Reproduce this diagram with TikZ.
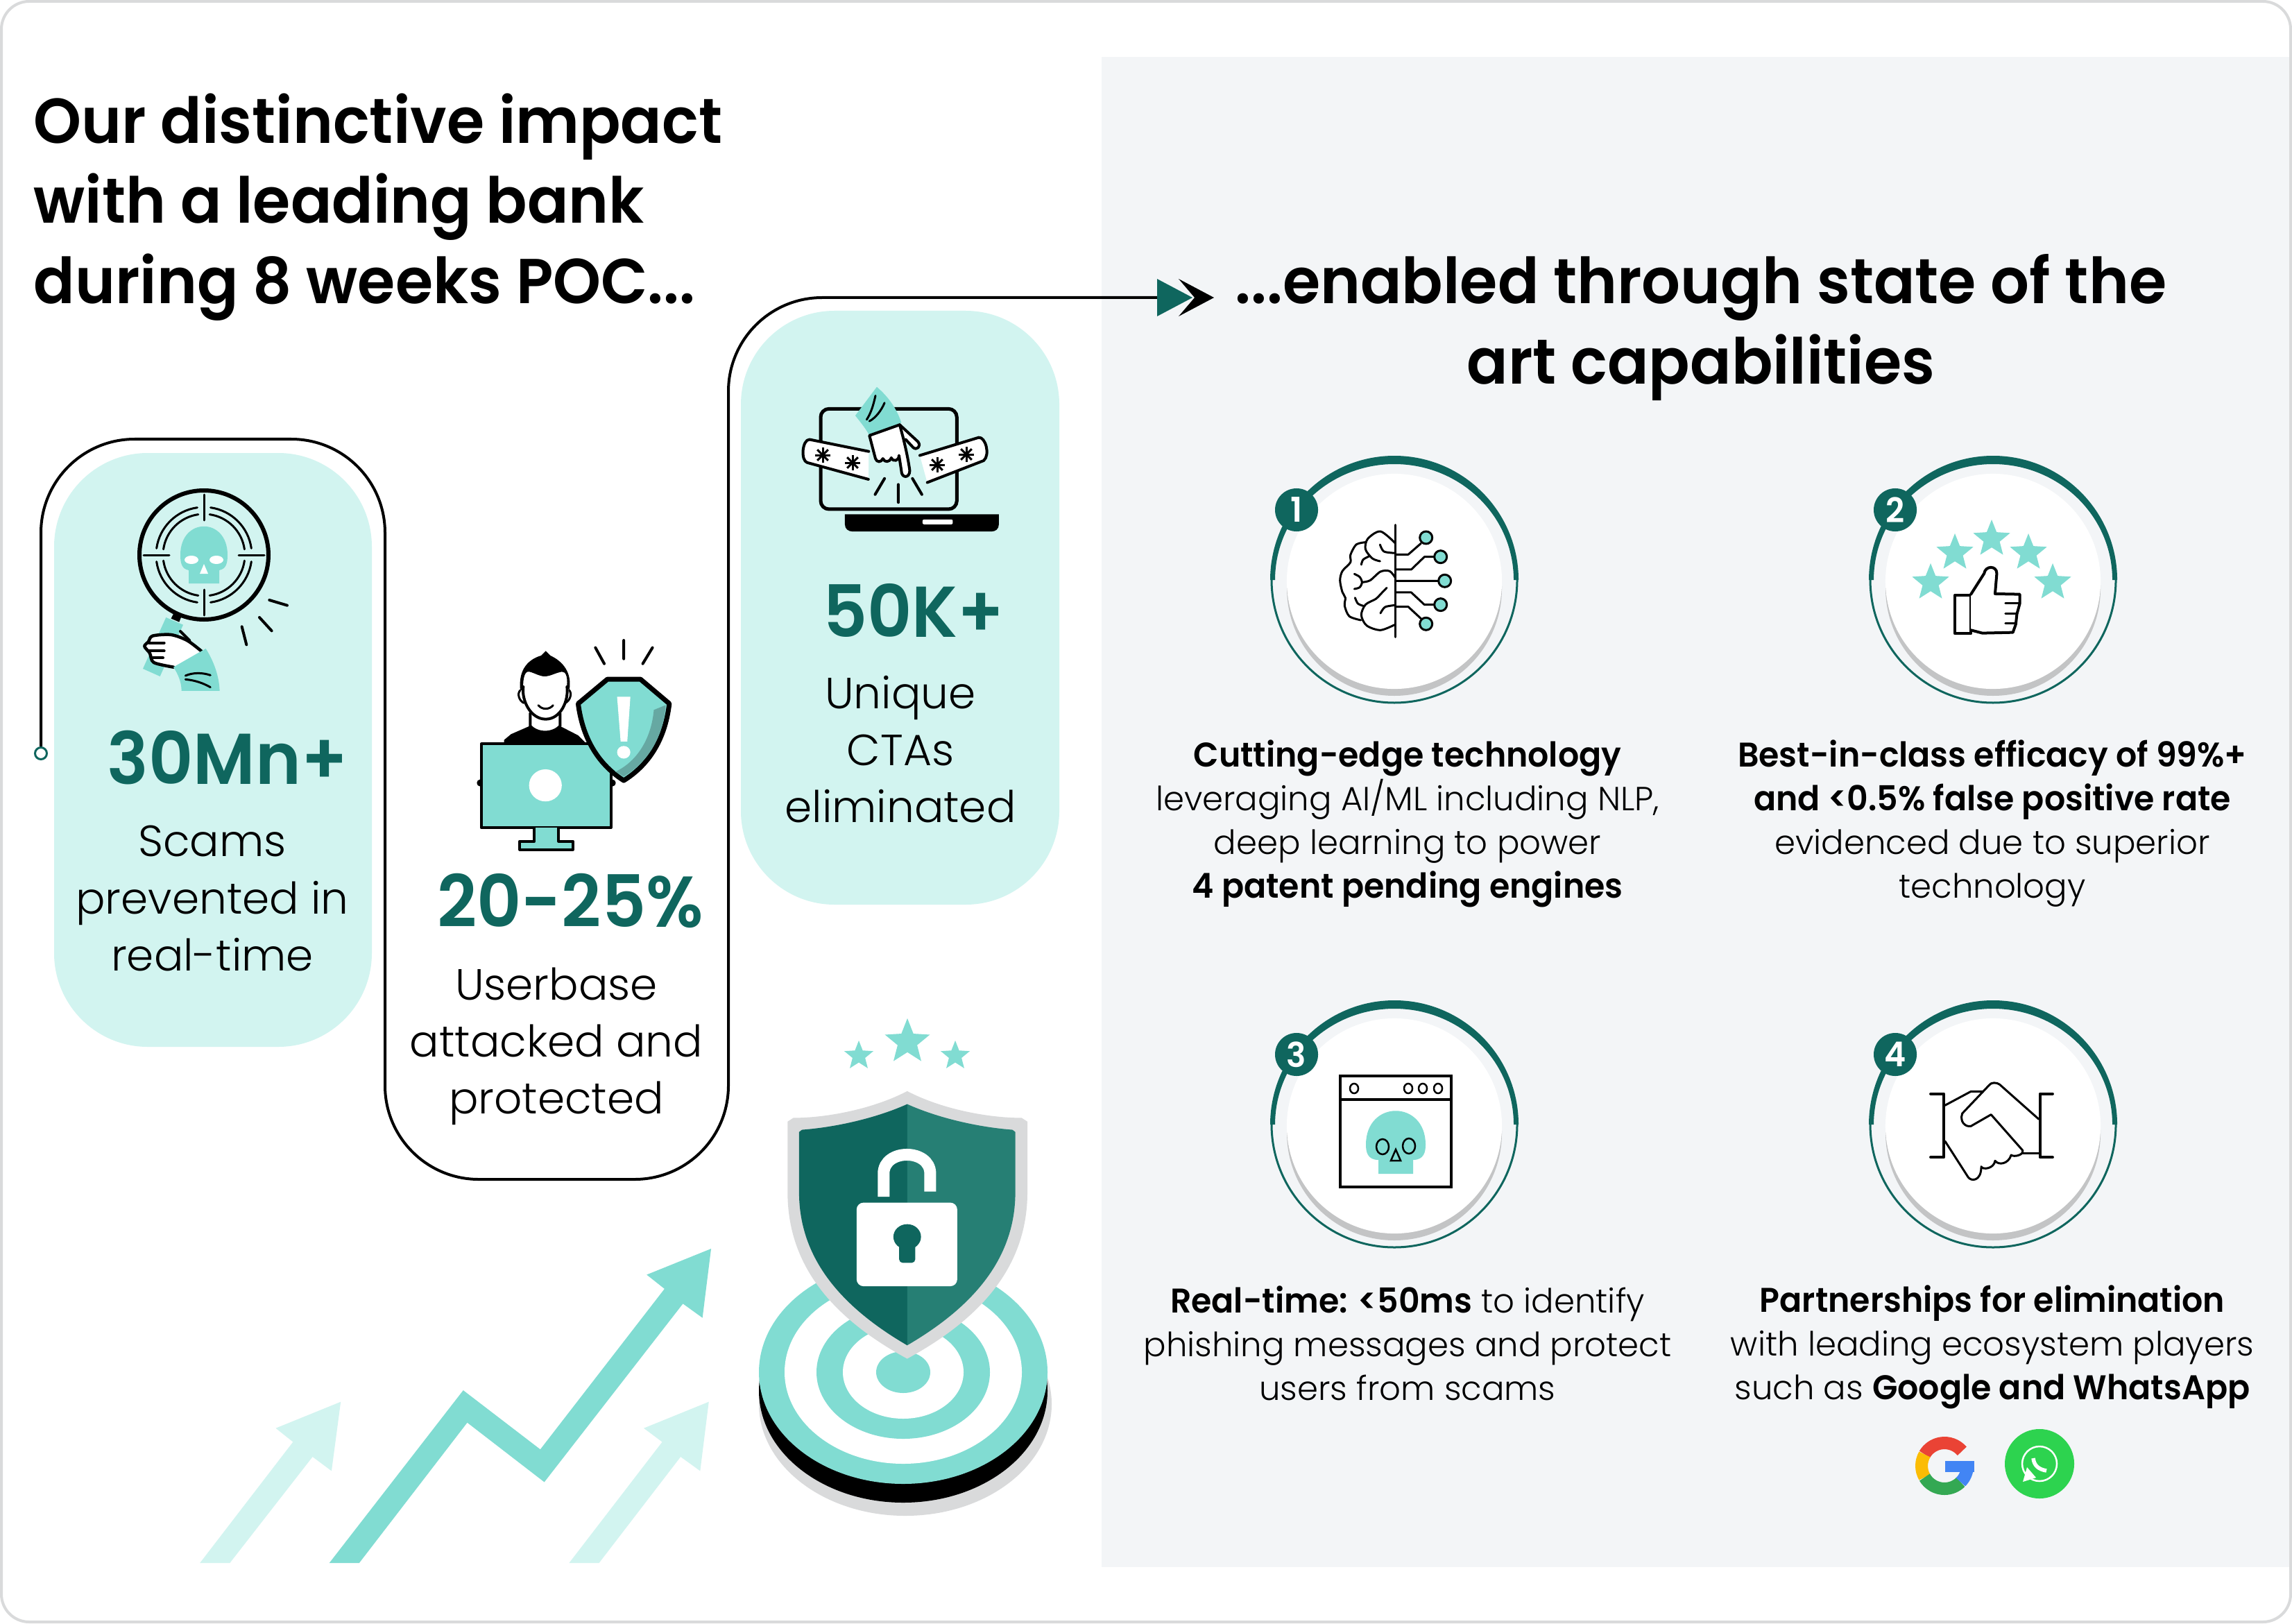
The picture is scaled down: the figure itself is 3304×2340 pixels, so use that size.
\documentclass[tikz,border=0pt]{standalone}
\usepackage{fontspec}
\usetikzlibrary{shapes.geometric}
\setmainfont{Poppins}[UprightFont=*-Light,BoldFont=*-SemiBold,BoldFeatures={FakeStretch=.96}]
\definecolor{deepteal}{HTML}{0F665E}
\definecolor{midteal}{HTML}{267F74}
\definecolor{softteal}{HTML}{81DCD2}
\definecolor{paleteal}{HTML}{D2F4F0}
\definecolor{panelgrey}{HTML}{F3F5F7}
\definecolor{edgegrey}{HTML}{D9DADB}
\definecolor{shieldshade}{HTML}{66A8A2}
\definecolor{googlered}{HTML}{EA4335}
\definecolor{googleyellow}{HTML}{FBBC05}
\definecolor{googlegreen}{HTML}{34A853}
\definecolor{googleblue}{HTML}{4285F4}
\definecolor{whatsgreen}{HTML}{2DD34F}
\tikzset{
  heading/.style={font=\fontsize{26}{32.86}\selectfont\bfseries,align=left,text=black,inner sep=0pt},
  headingc/.style={heading,align=center},
  statnum/.style={font=\fontsize{29.5}{36}\selectfont\bfseries,text=deepteal,inner sep=0pt},
  statline/.style={font=\fontsize{17.9}{23.33}\selectfont,align=center,inner sep=0pt},
  itemtext/.style={font=\fontsize{13.7}{17.92}\selectfont,align=center,inner sep=0pt},
  card/.style={fill=paleteal,rounded corners=1.35cm},
  outline/.style={line width=.04cm,rounded corners=1.35cm},
  ink/.style={line width=.04cm,line join=round,line cap=round},
  thinink/.style={line width=.03cm,line join=round,line cap=round},
  tealstar/.style={star,star points=5,star point ratio=2.3,fill=softteal,inner sep=0pt},
  badge/.style={circle,fill=deepteal,text=white,minimum size=.62cm,inner sep=0pt,font=\fontsize{14}{14}\selectfont\bfseries},
}
\newcommand\boldrun[1]{{\fontsize{14.05}{17.92}\selectfont\bfseries #1}}
\begin{document}
\begin{tikzpicture}[x=.01cm,y=-.01cm]
\useasboundingbox(0,0)rectangle(3304,2340);
\fill[white,rounded corners=.4cm](2,2)rectangle(3302,2338);
\fill[panelgrey](1588,82)rectangle(3301,2259);
\draw[edgegrey,line width=.04cm,rounded corners=.4cm](2,2)rectangle(3302,2338);
\fill[card](78,653)rectangle(536,1509);
\fill[card](1068,448)rectangle(1527,1304);
\node[heading,anchor=north west](lefthead)at(48,134){Our distinctive impact\\with a leading bank\\during 8 weeks POC...};
\node[headingc](righthead)at(2452,472){...enabled through state of the\\art capabilities};
\node[draw=deepteal,fill=white,circle,line width=.03cm,minimum size=.17cm,inner sep=0pt](startdot)at(59,1086){};
\coordinate(tip)at(1672,429);
\draw[outline](startdot.north)--(59,633)--(555,633)--(555,1700)--(1050,1700)--(1050,429)--(tip);
\fill(1699,402)--(1750,429)--(1699,456)--(1722,429)--cycle;
\fill[deepteal](1668,402)--(1719,429)--(1668,456)--cycle;
\node[statnum](scamsnum)at(328,1092){30Mn+};
\node[statline](scamstext)at(306,1295){Scams\\prevented in\\real-time};
\node[statnum](usersnum)at(822,1298){20-25\%};
\node[statline](userstext)at(802,1508){Userbase\\attacked and\\protected};
\node[statnum](ctasnum)at(1317,880){50K+};
\node[statline](ctastext)at(1298,1080){Unique\\CTAs\\eliminated};
\foreach \cx/\cy/\n in {2010/836/1,2873/836/2,2010/1621/3,2873/1621/4}{
  \fill[deepteal]({\cx-179},\cy)arc[start angle=180,end angle=360,radius=179]--({\cx+172},\cy)arc[start angle=360,end angle=180,x radius=172,y radius=167]--cycle;
  \draw[deepteal,line width=.03cm]({\cx+177},\cy)arc[start angle=0,end angle=180,radius=177];
  \fill[edgegrey!90!black]({\cx},{\cy+12})circle[radius=155];
  \node[circle,fill=white,minimum size=3.1cm,inner sep=0pt](disc\n)at(\cx,{\cy+2}){};
  \node[badge](badge\n)at({\cx-141},{\cy-101}){\n};
}
\node[itemtext](item1)at(2029,1187){\boldrun{Cutting-edge technology}\\leveraging AI/ML including NLP,\\deep learning to power\\\boldrun{4 patent pending engines}};
\node[itemtext](item2)at(2872,1187){\boldrun{Best-in-class efficacy of 99\%+}\\\boldrun{and <0.5\% false positive rate}\\evidenced due to superior\\technology};
\node[itemtext](item3)at(2029,1936){\boldrun{Real-time: <50ms} to identify\\phishing messages and protect\\users from scams};
\node[itemtext](item4)at(2872,1942){\boldrun{Partnerships for elimination}\\with leading ecosystem players\\such as \boldrun{Google and WhatsApp}};
\begin{scope}[shift={(190,860)},scale=.3333]
\fill[softteal](148,90)--(222,122)--(122,345)--(48,312)--cycle;
\fill(180,75)--(215,85)--(205,110)--(170,95)--cycle;
\draw[ink](210,150)--(250,190);
\fill[white](300,235)--(210,172)--(90,170)--(55,215)--(95,290)--(180,305)--cycle;
\draw[ink,line width=.045cm]plot[smooth]coordinates{(300,235)(240,190)(170,165)(90,170)(72,195)(55,215)(78,245)(95,285)(180,305)};
\draw[ink](75,200)--(140,200)(70,235)--(140,235)(90,265)--(135,265);
\fill[softteal](180,305)--(320,225)..controls(355,280)and(378,345)..(380,408)--(215,408)..controls(215,370)and(200,335)..(180,305)--cycle;
\draw[thinink](232,342)..controls(265,328)and(305,328)..(340,340)(232,358)..controls(275,362)and(310,375)..(340,392);
\draw[ink](595,15)--(672,38)(552,90)--(605,148)(476,130)--(496,208);
\end{scope}
\draw[line width=.06cm,fill=paleteal](294,800)circle[radius=93];
\foreach \a in {0,90,180,270}{
  \draw[thinink]({294+69*cos(\a+8)},{800+69*sin(\a+8)})arc[start angle=\a+8,end angle=\a+82,radius=69];
  \draw[thinink]({294+59*cos(\a+8)},{800+59*sin(\a+8)})arc[start angle=\a+8,end angle=\a+82,radius=59];
  \draw[thinink]({294+87*cos(\a)},{800+87*sin(\a)})--({294+50*cos(\a)},{800+50*sin(\a)});
}
\fill[softteal](260,800)..controls(260,745)and(328,745)..(328,800)..controls(328,812)and(326,820)..(316,822)--(316,841)--(272,841)--(272,822)..controls(262,820)and(260,812)..(260,800)--cycle;
\fill[white](276,807)ellipse[x radius=10,y radius=6](312,807)ellipse[x radius=10,y radius=6];
\fill[white](294,813)--(288,827)--(300,827)--cycle;
\begin{scope}[shift={(700,920)},scale=.3333]
\fill(80,450)--(80,440)--(110,415)--(190,380)--(322,380)--(400,420)--(430,450)--cycle;
\draw[ink,fill=white](193,325)--(193,380)..controls(225,415)and(290,415)..(322,380)--(322,325);
\draw[ink,fill=white](163,210)..controls(155,270)and(195,350)..(260,350)..controls(325,350)and(360,270)..(352,210);
\fill(150,225)..controls(140,130)and(190,90)..(240,75)--(260,55)--(280,75)..controls(335,100)and(375,150)..(362,225)--(352,205)..controls(355,160)and(345,145)..(330,145)..controls(300,150)and(280,165)..(255,165)..controls(235,165)and(210,150)..(190,145)..controls(170,140)and(160,170)..(163,225)--cycle;
\draw[thinink](150,225)..controls(135,240)and(145,270)..(165,280)(362,225)..controls(375,240)and(365,270)..(345,280);
\draw[thinink](228,290)..controls(245,310)and(275,310)..(292,290);
\end{scope}
\begin{scope}[shift={(40,620)},xscale=.6378,yscale=.7015]
\fill(1022,725)circle[radius=7](1322,725)circle[radius=7];
\draw[ink,fill=softteal](1025,645)rectangle(1318,817);
\draw[ink,fill=softteal](1145,817)--(1145,845)--(1112,845)--(1112,862)--(1232,862)--(1232,845)--(1200,845)--(1200,817);
\fill[white](1170,730)ellipse[x radius=37,y radius=33];
\draw[line width=.07cm,line join=round,fill=softteal](1310,512)--(1385,512)--(1450,562)..controls(1440,640)and(1400,690)..(1347,720)..controls(1295,690)and(1255,640)..(1244,562)--cycle;
\fill[shieldshade](1415,575)--(1442,565)..controls(1435,640)and(1395,685)..(1347,712)..controls(1340,708)and(1335,705)..(1328,702)..controls(1380,680)and(1410,630)..(1415,575)--cycle;
\fill[white](1332,548)--(1362,548)--(1355,640)--(1340,640)--cycle;
\fill[white](1347,662)ellipse[x radius=15,y radius=13];
\draw[ink](1283,447)--(1303,480)(1347,432)--(1347,470)(1412,447)--(1390,480);
\end{scope}
\begin{scope}[shift={(1040,420)},xscale=.4847,yscale=.574]
\draw[line width=.05cm,rounded corners=.12cm](295,295)rectangle(700,547);
\fill(367,560)--(825,560)--(825,585)..controls(825,597)and(815,603)..(803,603)--(390,603)..controls(378,603)and(367,597)..(367,585)--cycle;
\fill[white,rounded corners=.02cm](598,573)rectangle(688,585);
\draw[ink,fill=white](438,402)--(262,372)..controls(240,372)and(235,425)..(255,430)--(437,472);
\draw[ink,fill=white](590,412)--(765,367)..controls(785,365)and(800,410)..(780,425)--(612,480);
\fill[softteal](462,240)..controls(490,260)and(520,290)..(535,330)--(440,362)..controls(430,345)and(410,325)..(398,312)--cycle;
\draw[thinink](458,262)..controls(452,285)and(445,305)..(432,322)(485,280)..controls(475,300)and(458,318)..(440,326);
\draw[ink,fill=white](530,335)--(585,378)..controls(595,390)and(580,400)..(570,392)--(548,372);
\draw[ink,fill=white](440,362)--(530,335)..controls(545,380)and(555,420)..(560,450)..controls(560,470)and(535,470)..(535,450)--(528,412)..controls(528,425)and(512,430)..(505,418)..controls(500,430)and(485,430)..(480,420)..controls(475,430)and(462,430)..(458,420)--cycle;
\draw[ink](485,470)--(457,510)(526,485)--(526,530)(568,470)--(596,510);
\end{scope}
\foreach \sx/\sy in {1186/656,1229/667,1351/670,1393/655}{
  \foreach \a in {0,45,90,135}
    \draw[line width=.03cm]({\sx-11*cos(\a)},{\sy-11*sin(\a)})--({\sx+11*cos(\a)},{\sy+11*sin(\a)});
}
\begin{scope}[shift={(1900,740)},scale=.3333]
\draw[thinink](335,50)--(335,535);
\draw[thinink](335,178)--(390,178)--(445,130)(335,243)--(403,243)--(460,188)--(505,188)(335,292)--(520,292)(335,342)--(403,342)--(460,395)--(505,395)(335,404)--(390,404)--(445,455);
\foreach \dx/\dy in {467/105,530/188,548/292,530/395,467/478}
  \draw[thinink,fill=softteal](\dx,\dy)circle[radius=27];
\draw[thinink]plot[smooth]coordinates{(335,130)(270,78)(215,110)(205,155)(235,195)(268,207)};
\draw[thinink]plot[smooth]coordinates{(205,125)(165,135)(140,180)(140,212)(105,250)(95,290)(105,340)(118,365)(115,400)(135,445)(185,462)};
\draw[thinink]plot[smooth]coordinates{(335,480)(270,505)(210,485)(187,440)(205,395)(250,370)(270,350)(297,322)};
\draw[thinink]plot[smooth]coordinates{(160,365)(172,390)(195,400)};
\draw[thinink]plot[smooth]coordinates{(268,135)(285,165)(335,172)};
\draw[thinink]plot[smooth]coordinates{(222,185)(195,200)(187,222)};
\draw[thinink]plot[smooth]coordinates{(157,262)(180,275)(190,298)(180,320)(157,327)};
\draw[thinink]plot[smooth]coordinates{(190,298)(225,290)(270,252)(310,250)(335,280)};
\draw[thinink]plot[smooth]coordinates{(270,432)(290,405)(335,397)};
\end{scope}
\begin{scope}[shift={(1780,640)},xscale=.829,yscale=.3333]
\draw[ink,fill=white](1252,655)rectangle(1280,820);
\draw[ink,fill=white](1280,650)--(1303,560)..controls(1305,525)and(1325,525)..(1325,560)--(1322,648)--(1365,650)--(1365,690)--(1360,735)--(1358,780)--(1353,815)--(1300,818)--(1280,805);
\draw[thinink](1340,690)--(1365,690)(1340,735)--(1360,735)(1340,775)--(1358,775);
\end{scope}
\foreach \sx/\sy/\sn in {2871/777/a,2818/797/b,2924/797/c,2783/840/d,2959/840/e}
  \node[tealstar,minimum size=.56cm](star\sn)at(\sx,\sy){};
\draw[line width=.035cm](1932,1551)rectangle(2092,1711)(1932,1585)--(2092,1585);
\foreach \dx in {1952,2030,2051,2073}
  \draw[line width=.025cm](\dx,1569)ellipse[x radius=6,y radius=7];
\fill[softteal](1969,1650)..controls(1969,1585)and(2055,1585)..(2055,1650)..controls(2055,1660)and(2053,1672)..(2037,1672)--(2037,1692)--(1987,1692)--(1987,1672)..controls(1971,1672)and(1969,1660)..(1969,1650)--cycle;
\draw[line width=.025cm](1993,1653)ellipse[x radius=9,y radius=11](2031,1652)ellipse[x radius=9,y radius=11](2012,1657)--(2005,1673)--(2019,1673)--cycle;
\begin{scope}[shift={(1780,1420)},xscale=.829,yscale=.3333]
\draw[ink](1210,470)--(1233,470)--(1233,745)--(1210,745)(1422,470)--(1400,470)--(1400,745)--(1422,745);
\draw[thinink](1235,520)--(1280,460)--(1300,460);
\draw[thinink,fill=white](1398,580)--(1330,430)..controls(1325,420)and(1315,420)..(1312,432)--(1265,555)..controls(1260,590)and(1270,615)..(1280,610)--(1315,560)--(1370,715)..controls(1372,735)and(1355,745)..(1350,735)..controls(1345,775)and(1328,780)..(1322,760)..controls(1320,795)and(1300,800)..(1298,785)..controls(1298,850)and(1280,850)..(1275,830)--(1235,675);
\draw[thinink](1370,728)--(1398,728);
\end{scope}
\begin{scope}[shift={(240,1440)},xscale=.829,yscale=.5357]
\fill[paleteal](58,1518)--(220,1192)--(190,1155)--(303,1084)--(287,1270)--(254,1232)--(110,1518)--cycle;
\fill[paleteal](700,1518)--(862,1192)--(830,1155)--(943,1084)--(928,1270)--(894,1232)--(752,1518)--cycle;
\fill[softteal](283,1518)--(516,1053)--(650,1212)--(866,780)--(835,742)--(947,672)--(932,858)--(898,820)--(657,1300)--(523,1140)--(335,1518)--cycle;
\end{scope}
\fill[edgegrey](1305,2024)ellipse[x radius=211,y radius=161];
\fill(1302,2005)ellipse[x radius=208,y radius=161];
\fill[softteal](1302,1978)ellipse[x radius=208,y radius=161];
\fill[white](1302,1978)ellipse[x radius=171,y radius=132];
\fill[softteal](1302,1978)ellipse[x radius=125,y radius=96];
\fill[white](1302,1978)ellipse[x radius=87,y radius=67];
\fill[softteal](1302,1978)ellipse[x radius=39,y radius=30];
\begin{scope}[shift={(240,1440)},xscale=.829,yscale=.5357]
\fill[edgegrey](1288,248)..controls(1230,295)and(1150,320)..(1090,320)--(1080,330)--(1080,520)..controls(1080,720)and(1160,860)..(1288,968)..controls(1416,860)and(1497,720)..(1497,520)--(1497,330)--(1487,320)..controls(1426,320)and(1346,295)..(1288,248)--cycle;
\fill[deepteal](1288,283)..controls(1235,320)and(1165,345)..(1105,352)--(1100,358)--(1100,520)..controls(1100,700)and(1175,830)..(1288,932)--cycle;
\fill[midteal](1288,283)..controls(1341,320)and(1411,345)..(1471,352)--(1476,358)--(1476,520)..controls(1476,700)and(1401,830)..(1288,932)--cycle;
\draw[white,line width=.17cm](1247,532)--(1247,470)..controls(1247,402)and(1328,402)..(1328,470)--(1328,518);
\fill[white,rounded corners=.1cm](1200,548)rectangle(1375,773);
\fill[deepteal](1288,640)ellipse[x radius=24,y radius=34];
\fill[deepteal,rounded corners=.05cm](1274,650)rectangle(1302,710);
\end{scope}
\node[tealstar,minimum size=.68cm](topstar)at(1308,1502){};
\node[tealstar,minimum size=.44cm](leftstar)at(1238,1522){};
\node[tealstar,minimum size=.44cm](rightstar)at(1377,1522){};
\draw[line width=.18cm,googlered](2803,2113)++(-40:33)arc[start angle=-40,end angle=-150,radius=33];
\draw[line width=.18cm,googleyellow](2803,2113)++(-150:33)arc[start angle=-150,end angle=-210,radius=33];
\draw[line width=.18cm,googlegreen](2803,2113)++(-210:33)arc[start angle=-210,end angle=-315,radius=33];
\draw[line width=.18cm,googleblue](2803,2113)++(-315:33)arc[start angle=-315,end angle=-360,radius=33];
\fill[googleblue](2804,2106)rectangle(2846,2122);
\node[circle,fill=whatsgreen,minimum size=1cm,inner sep=0pt](whatsapp)at(2940,2110){};
\draw[white,line width=.025cm](2940,2110)circle[radius=25];
\fill[white](2916,2136)--(2922,2115)--(2935,2130)--cycle;
\draw[white,line width=.055cm](2931,2102)..controls(2932,2112)and(2938,2118)..(2950,2120);
\end{tikzpicture}
\end{document}
